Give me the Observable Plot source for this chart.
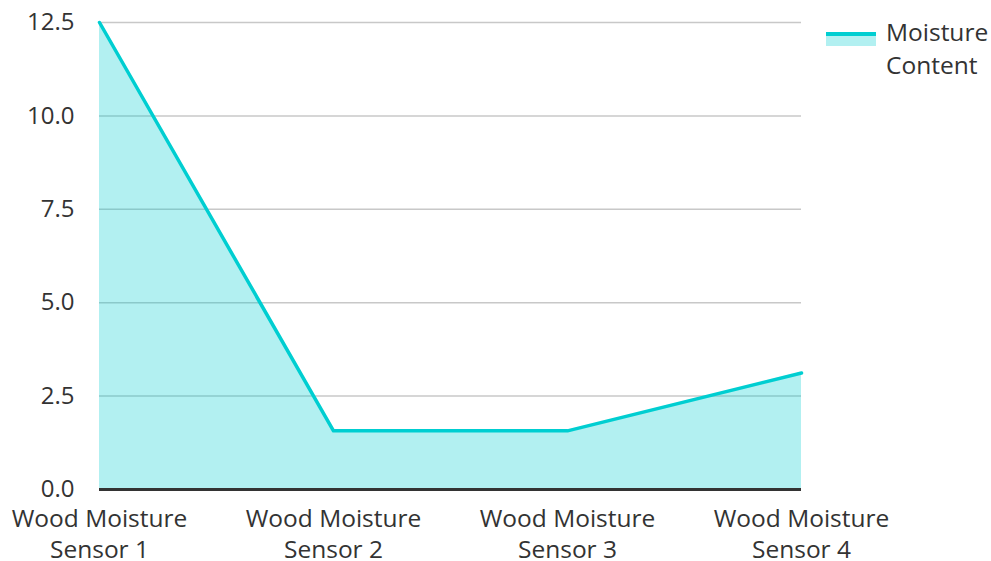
<!DOCTYPE html>
<html>
<head>
<meta charset="utf-8">
<script src="https://cdn.jsdelivr.net/npm/d3@7"></script>
<script src="https://cdn.jsdelivr.net/npm/@observablehq/plot@0.6"></script>
<style>
  html, body { margin: 0; padding: 0; background: #fff; }
  #wrap { position: relative; width: 991px; height: 561px; font-family: "Open Sans", sans-serif; }
  #legend { position: absolute; left: 826px; top: 15px; display: flex; align-items: flex-start; }
  #legend .sw { width: 50px; height: 14px; margin-top: 17px; background: rgba(0,206,209,0.3); border-top: 4px solid #00CED1; box-sizing: border-box; }
  #legend .lbl { margin-left: 10px; font-size: 24.5px; line-height: 33px; color: #333; }
</style>
</head>
<body>
<div id="wrap">
  <div id="chart"></div>
  <div id="legend"><div class="sw"></div><div class="lbl" id="lbl"></div></div>
</div>
<script>
const categories = ["Wood Moisture\nSensor 1", "Wood Moisture\nSensor 2", "Wood Moisture\nSensor 3", "Wood Moisture\nSensor 4"];
const moisture = [12.5, 1.57, 1.57, 3.12];
const yTicks = [0, 2.5, 5, 7.5, 10, 12.5];
const seriesName = "Moisture\nContent";

const data = categories.map((c, i) => ({cat: c, v: moisture[i]}));

const chart = Plot.plot({
  width: 991,
  height: 561,
  marginLeft: 99,
  marginRight: 190,
  marginTop: 22,
  marginBottom: 72,
  style: {fontFamily: "Open Sans, sans-serif", fontSize: "24px", color: "#333", background: "transparent"},
  x: {type: "point", domain: categories, padding: 0},
  y: {domain: [0, 12.5], ticks: yTicks},
  marks: [
    Plot.gridY(yTicks, {stroke: "#c8c8c8", strokeOpacity: 1, strokeWidth: 1.5}),
    Plot.areaY(data, {x: "cat", y: "v", fill: "#00CED1", fillOpacity: 0.3}),
    Plot.lineY(data, {x: "cat", y: "v", stroke: "#00CED1", strokeWidth: 3.5}),
    Plot.ruleY([0], {stroke: "#333", strokeWidth: 3}),
    Plot.axisY(yTicks, {tickSize: 0, tickPadding: 25, tickFormat: d => d.toFixed(1), label: null, fontSize: 24, fill: "#333"}),
    Plot.axisX({tickSize: 0, tickPadding: 15, label: null, fontSize: 24.5, lineHeight: 1.27, fill: "#333"})
  ]
});
document.getElementById("chart").appendChild(chart);
document.getElementById("lbl").innerHTML = seriesName.split("\n").join("<br>");
</script>
</body>
</html>
